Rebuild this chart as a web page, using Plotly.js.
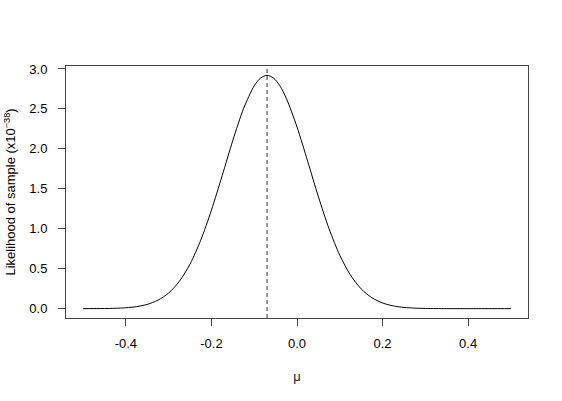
<!DOCTYPE html>
<html>
<head>
<meta charset="utf-8">
<script src="https://cdn.plot.ly/plotly-3.0.1.min.js"></script>
<style>html,body{margin:0;padding:0;background:#fff}#chart{width:562px;height:401px}</style>
</head>
<body>
<div id="chart"></div>
<script>
// mu values (x) and likelihood (x10^-38)
var mu = [-0.5,-0.475,-0.45,-0.425,-0.4,-0.375,-0.35,-0.325,-0.3,-0.275,-0.25,-0.225,-0.2,-0.175,-0.15,-0.125,-0.1,-0.085,-0.07,-0.055,-0.04,-0.025,0,0.025,0.05,0.075,0.1,0.125,0.15,0.175,0.2,0.225,0.25,0.275,0.3,0.325,0.35,0.375,0.4,0.425,0.45,0.475,0.5];
var likelihood = [0.0002,0.0007,0.0018,0.0047,0.0113,0.0254,0.0535,0.106,0.196,0.342,0.559,0.857,1.233,1.664,2.106,2.503,2.789,2.887,2.92,2.887,2.789,2.633,2.274,1.843,1.401,0.999,0.668,0.420,0.247,0.137,0.0709,0.0344,0.0157,0.0067,0.0027,0.001,0.0004,0.0001,0,0,0,0,0];
var muHat = -0.07;
var xTicks = [-0.4,-0.2,0.0,0.2,0.4];
var xTickText = ["-0.4","-0.2","0.0","0.2","0.4"];
var yTicks = [0,0.5,1,1.5,2,2.5,3];
var yTickText = ["0.0","0.5","1.0","1.5","2.0","2.5","3.0"];

var font = {family: "Liberation Sans, Arial, sans-serif", size: 13, color: "#000"};
var trace = {x: mu, y: likelihood, type: "scatter", mode: "lines",
  line: {color: "#000", width: 1, shape: "spline", smoothing: 0.8}, hoverinfo: "skip"};
var layout = {
  width: 562, height: 401,
  margin: {l: 66, r: 34, t: 66, b: 83},
  paper_bgcolor: "#fff", plot_bgcolor: "#fff",
  showlegend: false,
  font: font,
  xaxis: {range: [-0.54, 0.54], tickvals: xTicks, ticktext: xTickText,
    showgrid: false, zeroline: false, showline: true, mirror: true, linecolor: "#444", linewidth: 1,
    ticks: "outside", ticklen: 7, tickcolor: "#444", tickwidth: 1, tickfont: font,
    ticklabelstandoff: 6,
    title: {text: "\u03bc", font: {family: font.family, size: 13, color: "#222"}, standoff: 22}},
  yaxis: {range: [-0.117, 3.037], tickvals: yTicks, ticktext: yTickText,
    showgrid: false, zeroline: false, showline: true, mirror: true, linecolor: "#444", linewidth: 1,
    ticks: "outside", ticklen: 7, tickcolor: "#444", tickwidth: 1, tickfont: font,
    ticklabelstandoff: 8,
    title: {text: "Likelihood of sample (x10<sup>\u221238</sup>)", font: font, standoff: 10}},
  shapes: [{type: "line", xref: "x", yref: "paper", x0: muHat, x1: muHat, y0: 0, y1: 1,
    line: {color: "#333", width: 1, dash: "4px,3px"}}]
};
Plotly.newPlot("chart", [trace], layout, {staticPlot: true, displayModeBar: false});
</script>
</body>
</html>
